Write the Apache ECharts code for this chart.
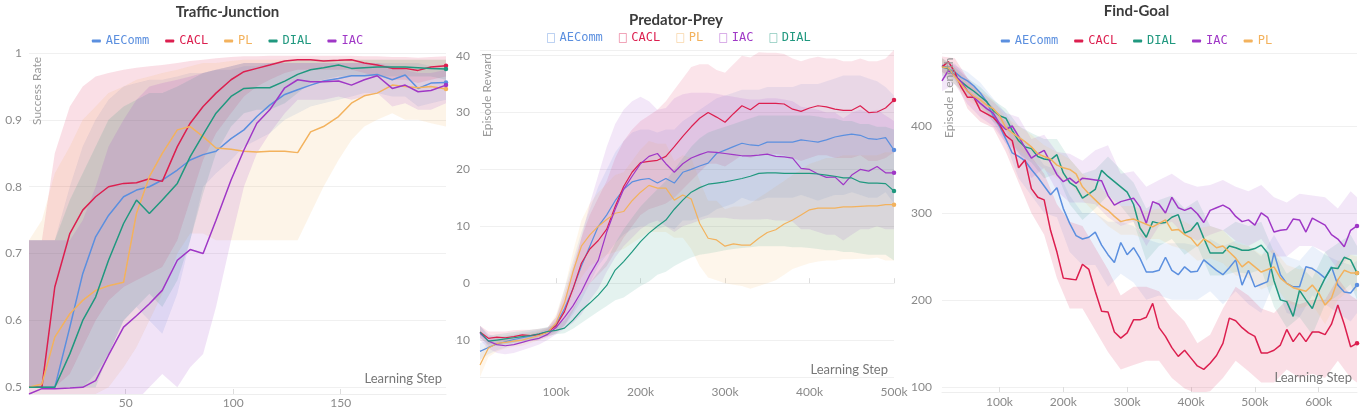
<!DOCTYPE html>
<html>
<head>
<meta charset="utf-8">
<title>Traffic-Junction / Predator-Prey / Find-Goal</title>
<script src="https://cdn.jsdelivr.net/npm/echarts@6/dist/echarts.min.js"></script>
<style>
  html, body { margin: 0; padding: 0; background: #fff; }
  .panel { position: absolute; top: 0; height: 411px; }
</style>
</head>
<body>
<div id="tj" class="panel" style="left:0;width:455px"></div>
<div id="pp" class="panel" style="left:455px;width:454px"></div>
<div id="fg" class="panel" style="left:909px;width:455px"></div>
<script>
// ---------- Traffic-Junction (success rate) ----------
const tjSteps = [5, 11, 17, 24, 30, 36, 42, 49, 55, 61, 67, 74, 80, 86, 92, 99, 105, 111, 117, 124, 130, 136, 142, 149, 155, 161, 167, 174, 180, 186, 192, 199];

const tjAEComm = [0.50, 0.50, 0.50, 0.59, 0.67, 0.725, 0.757, 0.785, 0.795, 0.80, 0.81, 0.825, 0.84, 0.848, 0.853, 0.872, 0.885, 0.905, 0.922, 0.938, 0.945, 0.952, 0.958, 0.962, 0.966, 0.966, 0.968, 0.96, 0.967, 0.947, 0.955, 0.956];
const tjCACL = [0.50, 0.50, 0.65, 0.73, 0.765, 0.785, 0.80, 0.805, 0.806, 0.812, 0.808, 0.86, 0.895, 0.92, 0.94, 0.96, 0.972, 0.977, 0.982, 0.988, 0.99, 0.99, 0.988, 0.989, 0.99, 0.985, 0.982, 0.977, 0.977, 0.974, 0.979, 0.981];
const tjPL = [0.50, 0.505, 0.575, 0.61, 0.63, 0.645, 0.652, 0.657, 0.76, 0.815, 0.85, 0.885, 0.89, 0.875, 0.858, 0.856, 0.853, 0.852, 0.853, 0.853, 0.851, 0.882, 0.89, 0.905, 0.925, 0.936, 0.94, 0.952, 0.95, 0.948, 0.95, 0.946];
const tjDIAL = [0.50, 0.50, 0.50, 0.55, 0.60, 0.635, 0.69, 0.745, 0.78, 0.76, 0.78, 0.805, 0.845, 0.878, 0.91, 0.935, 0.947, 0.948, 0.948, 0.958, 0.968, 0.975, 0.978, 0.982, 0.977, 0.978, 0.979, 0.979, 0.979, 0.978, 0.977, 0.976];
const tjIAC = [0.49, 0.498, 0.498, 0.499, 0.50, 0.51, 0.548, 0.59, 0.607, 0.625, 0.645, 0.69, 0.706, 0.70, 0.75, 0.81, 0.855, 0.895, 0.915, 0.948, 0.96, 0.957, 0.957, 0.958, 0.952, 0.96, 0.966, 0.947, 0.952, 0.942, 0.944, 0.952];

const tjAECommLo = [0.5, 0.5, 0.5, 0.5, 0.5, 0.52, 0.55, 0.6, 0.62, 0.6, 0.58, 0.64, 0.72, 0.8, 0.82, 0.84, 0.86, 0.87, 0.88, 0.9, 0.91, 0.92, 0.925, 0.93, 0.935, 0.94, 0.94, 0.935, 0.935, 0.92, 0.925, 0.93];
const tjAECommHi = [0.72, 0.72, 0.72, 0.8, 0.86, 0.9, 0.93, 0.95, 0.955, 0.96, 0.96, 0.965, 0.97, 0.97, 0.975, 0.975, 0.98, 0.98, 0.985, 0.985, 0.985, 0.985, 0.985, 0.985, 0.985, 0.985, 0.985, 0.985, 0.985, 0.985, 0.98, 0.98];
const tjCACLLo = [0.5, 0.5, 0.5, 0.52, 0.56, 0.6, 0.63, 0.65, 0.66, 0.67, 0.68, 0.72, 0.78, 0.84, 0.88, 0.91, 0.935, 0.95, 0.96, 0.97, 0.975, 0.975, 0.975, 0.975, 0.975, 0.97, 0.965, 0.96, 0.96, 0.955, 0.96, 0.965];
const tjCACLHi = [0.72, 0.72, 0.85, 0.92, 0.95, 0.965, 0.97, 0.975, 0.978, 0.98, 0.982, 0.985, 0.988, 0.99, 0.992, 0.994, 0.995, 0.995, 0.996, 0.996, 0.996, 0.996, 0.996, 0.996, 0.996, 0.995, 0.995, 0.994, 0.994, 0.993, 0.994, 0.995];
const tjPLLo = [0.49, 0.49, 0.49, 0.49, 0.49, 0.49, 0.5, 0.53, 0.56, 0.6, 0.64, 0.7, 0.73, 0.73, 0.72, 0.72, 0.72, 0.72, 0.72, 0.72, 0.72, 0.76, 0.8, 0.84, 0.87, 0.89, 0.9, 0.91, 0.9, 0.9, 0.895, 0.89];
const tjPLHi = [0.72, 0.75, 0.82, 0.86, 0.9, 0.92, 0.94, 0.95, 0.96, 0.965, 0.97, 0.975, 0.98, 0.985, 0.985, 0.988, 0.99, 0.99, 0.99, 0.99, 0.99, 0.99, 0.99, 0.99, 0.99, 0.99, 0.99, 0.99, 0.99, 0.99, 0.99, 0.99];
const tjDIALLo = [0.5, 0.5, 0.5, 0.5, 0.5, 0.5, 0.55, 0.6, 0.62, 0.64, 0.62, 0.66, 0.72, 0.79, 0.85, 0.89, 0.91, 0.915, 0.915, 0.925, 0.94, 0.955, 0.96, 0.965, 0.965, 0.965, 0.965, 0.965, 0.965, 0.965, 0.965, 0.96];
const tjDIALHi = [0.72, 0.72, 0.72, 0.78, 0.82, 0.86, 0.9, 0.92, 0.93, 0.94, 0.94, 0.95, 0.96, 0.97, 0.975, 0.98, 0.985, 0.985, 0.985, 0.988, 0.99, 0.99, 0.99, 0.99, 0.99, 0.99, 0.99, 0.99, 0.99, 0.99, 0.99, 0.99];
const tjIACLo = [0.48, 0.48, 0.48, 0.48, 0.48, 0.48, 0.48, 0.48, 0.48, 0.5, 0.52, 0.5, 0.53, 0.55, 0.62, 0.72, 0.8, 0.85, 0.88, 0.91, 0.93, 0.93, 0.93, 0.935, 0.93, 0.935, 0.94, 0.92, 0.925, 0.915, 0.915, 0.925];
const tjIACHi = [0.72, 0.72, 0.72, 0.72, 0.75, 0.8, 0.86, 0.9, 0.93, 0.95, 0.955, 0.96, 0.965, 0.97, 0.975, 0.98, 0.985, 0.985, 0.985, 0.985, 0.985, 0.985, 0.985, 0.985, 0.985, 0.985, 0.985, 0.98, 0.975, 0.97, 0.97, 0.975];

// ---------- Predator-Prey (episode reward), steps in thousands ----------
const ppSteps = [10, 20, 30, 40, 50, 60, 70, 80, 90, 100, 110, 120, 130, 140, 150, 160, 170, 180, 190, 200, 210, 220, 230, 240, 250, 260, 270, 280, 290, 300, 310, 320, 330, 340, 350, 360, 370, 380, 390, 400, 410, 420, 430, 440, 450, 460, 470, 480, 490, 500];

const ppAEComm = [-12.0, -11.3, -10.7, -10.3, -9.9, -9.6, -9.3, -9.0, -8.5, -7.3, -4.5, -1.0, 3.0, 6.5, 10.0, 12.0, 14.5, 16.5, 17.8, 18.2, 18.4, 17.6, 18.4, 17.6, 19.5, 20.0, 20.6, 21.1, 22.8, 23.4, 24.0, 24.6, 24.3, 24.2, 24.8, 24.8, 24.8, 24.8, 25.2, 25.0, 24.8, 25.2, 25.7, 26.0, 26.2, 26.0, 25.4, 25.3, 25.6, 23.4];
const ppCACL = [-8.6, -9.7, -9.5, -9.6, -9.4, -9.1, -9.2, -9.0, -8.6, -7.5, -5.0, -1.0, 3.5, 6.0, 7.5, 9.5, 13.5, 17.0, 19.5, 21.2, 21.4, 21.6, 22.3, 24.0, 25.8, 27.5, 29.0, 30.0, 29.2, 28.3, 29.8, 31.2, 30.5, 31.6, 31.6, 31.6, 31.5, 30.6, 30.2, 30.8, 31.2, 31.0, 30.6, 30.4, 30.4, 31.2, 30.0, 30.1, 30.8, 32.2];
const ppPL = [-14.4, -11.4, -10.6, -10.4, -10.2, -10.0, -9.6, -9.2, -8.6, -7.0, -3.5, 2.0, 6.5, 8.5, 10.0, 11.2, 12.3, 12.6, 14.5, 16.0, 17.2, 16.7, 16.7, 14.6, 15.5, 14.8, 10.5, 7.9, 7.6, 6.5, 6.9, 6.7, 6.7, 7.9, 8.9, 9.4, 10.4, 11.1, 12.0, 12.9, 13.2, 13.2, 13.2, 13.4, 13.4, 13.5, 13.6, 13.6, 13.8, 13.8];
const ppDIAL = [-8.6, -10.2, -10.0, -9.8, -9.6, -9.4, -9.2, -8.9, -8.5, -8.3, -7.9, -6.5, -4.8, -3.5, -2.1, -0.4, 2.3, 3.8, 5.5, 7.3, 8.8, 10.0, 11.1, 13.0, 14.6, 16.0, 16.8, 17.4, 17.6, 17.8, 18.1, 18.4, 18.8, 19.3, 19.4, 19.4, 19.3, 19.3, 19.3, 19.3, 19.2, 19.0, 18.8, 18.5, 18.5, 17.8, 17.6, 17.6, 17.5, 16.2];
const ppIAC = [-8.8, -10.2, -10.8, -11.0, -10.8, -10.4, -10.0, -9.7, -9.0, -7.8, -6.0, -4.0, -1.5, 1.5, 4.0, 9.0, 13.0, 16.5, 18.8, 21.0, 22.3, 22.8, 21.0, 19.5, 21.0, 22.0, 22.6, 23.1, 23.0, 22.8, 22.6, 22.4, 22.4, 22.5, 22.7, 22.3, 22.2, 22.0, 20.2, 20.0, 19.2, 18.6, 18.7, 17.3, 19.0, 20.0, 19.7, 20.5, 19.4, 19.4];

const ppAECommLo = [-13.5, -12.5, -11.8, -11.3, -10.8, -10.5, -10.2, -9.8, -9.2, -8.5, -7.5, -5.5, -3.0, 0.0, 3.0, 5.0, 7.0, 8.5, 9.5, 10.0, 10.0, 9.5, 10.0, 9.5, 11.0, 11.0, 11.5, 12.0, 13.0, 13.5, 14.0, 15.0, 14.5, 14.5, 15.0, 15.0, 15.0, 15.0, 15.5, 15.0, 14.5, 15.0, 15.5, 15.5, 16.0, 15.5, 15.0, 15.0, 16.0, 14.0];
const ppAECommHi = [-10.5, -10.0, -9.5, -9.2, -9.0, -8.7, -8.5, -8.2, -7.8, -6.0, -1.0, 4.0, 9.0, 13.0, 17.0, 20.0, 23.0, 25.0, 26.5, 27.0, 27.0, 26.5, 27.0, 27.0, 28.5, 29.5, 30.5, 31.5, 32.5, 33.0, 33.5, 34.0, 34.0, 34.0, 34.5, 34.5, 34.5, 34.5, 35.0, 35.0, 35.0, 35.5, 36.0, 36.5, 36.5, 36.5, 36.0, 35.5, 34.5, 33.0];
const ppCACLLo = [-9.7, -10.7, -10.5, -10.6, -10.4, -10.1, -10.2, -10.0, -9.5, -8.8, -7.5, -5.0, -2.0, 0.0, 1.5, 3.0, 5.5, 8.0, 10.0, 12.0, 13.0, 13.5, 14.0, 15.0, 16.5, 18.0, 19.5, 21.0, 21.0, 20.5, 21.5, 22.5, 22.0, 22.5, 22.7, 22.7, 22.5, 22.0, 21.5, 22.0, 22.5, 22.5, 22.0, 22.0, 22.0, 22.5, 21.5, 21.5, 22.0, 23.0];
const ppCACLHi = [-7.5, -8.5, -8.5, -8.5, -8.3, -8.2, -8.2, -8.0, -7.8, -6.0, -2.0, 3.0, 8.0, 12.0, 15.0, 18.0, 22.0, 25.0, 27.0, 28.5, 29.5, 30.5, 32.0, 34.0, 36.0, 38.0, 38.5, 38.5, 37.5, 37.0, 38.5, 40.0, 39.7, 40.6, 40.5, 40.5, 40.3, 39.5, 39.0, 39.5, 39.8, 39.5, 39.5, 39.0, 39.0, 39.5, 39.0, 39.0, 39.5, 41.0];
const ppPLLo = [-16.5, -13.0, -12.0, -11.5, -11.2, -11.0, -10.5, -10.0, -9.3, -8.3, -6.0, -2.0, 1.0, 3.0, 4.0, 5.0, 5.5, 6.0, 7.0, 8.0, 9.0, 9.0, 9.0, 8.0, 8.0, 6.0, 3.0, 1.0, 0.5, 0.0, -0.3, -0.5, -1.0, -0.5, 0.0, 0.5, 1.5, 2.5, 3.0, 3.5, 3.8, 4.0, 4.0, 4.2, 4.2, 4.3, 4.3, 4.5, 4.0, 4.0];
const ppPLHi = [-12.5, -10.0, -9.5, -9.3, -9.2, -9.0, -8.7, -8.4, -7.9, -5.5, -1.0, 5.5, 11.0, 14.0, 16.0, 17.5, 19.0, 19.5, 21.5, 23.5, 25.0, 24.5, 24.5, 21.5, 22.5, 22.0, 18.0, 14.5, 14.5, 13.0, 13.5, 13.5, 14.0, 15.0, 16.0, 17.0, 18.0, 19.0, 20.0, 21.0, 21.5, 22.0, 22.0, 22.5, 22.5, 22.5, 22.5, 22.5, 23.0, 23.0];
const ppDIALLo = [-9.5, -11.0, -11.0, -10.8, -10.5, -10.2, -10.0, -9.7, -9.3, -9.0, -8.8, -8.0, -7.0, -6.0, -5.0, -4.0, -3.0, -2.5, -1.5, -0.5, 0.3, 1.5, 2.0, 3.0, 3.8, 4.5, 5.0, 5.2, 5.5, 5.8, 6.0, 6.2, 6.3, 6.5, 6.5, 6.5, 6.5, 6.3, 6.3, 6.2, 6.0, 5.8, 5.8, 5.5, 5.5, 5.2, 5.0, 5.0, 5.0, 4.0];
const ppDIALHi = [-7.5, -9.3, -9.0, -8.8, -8.6, -8.4, -8.2, -8.0, -7.7, -7.3, -6.5, -4.5, -2.0, 0.0, 2.0, 4.0, 7.0, 9.5, 11.5, 13.5, 15.0, 16.5, 18.0, 20.0, 22.0, 24.0, 25.5, 26.5, 27.0, 27.5, 28.0, 28.5, 29.0, 29.5, 29.5, 29.5, 29.5, 29.5, 29.5, 29.5, 29.3, 29.0, 29.0, 28.5, 28.5, 28.0, 28.0, 27.5, 27.5, 27.0];
const ppIACLo = [-10.0, -11.5, -12.3, -12.5, -12.3, -11.8, -11.3, -10.8, -10.0, -9.0, -8.0, -7.0, -5.5, -3.0, -1.0, 2.0, 4.5, 6.5, 8.0, 9.5, 10.5, 11.0, 10.0, 9.0, 10.0, 10.5, 11.0, 11.5, 11.5, 11.5, 11.3, 11.2, 11.2, 11.2, 11.3, 11.0, 11.0, 10.8, 9.5, 9.5, 9.0, 8.5, 8.5, 7.5, 8.5, 9.5, 9.5, 10.0, 9.5, 9.5];
const ppIACHi = [-7.5, -9.0, -9.5, -9.5, -9.5, -9.2, -9.0, -8.6, -8.0, -6.5, -3.0, 2.0, 8.0, 14.0, 19.0, 24.0, 28.0, 30.5, 32.0, 32.8, 32.0, 30.5, 30.8, 32.5, 33.2, 33.5, 33.5, 33.5, 33.3, 33.0, 32.8, 32.5, 32.3, 32.3, 32.5, 32.5, 32.3, 32.0, 31.0, 30.8, 30.5, 30.0, 30.0, 29.0, 30.0, 30.5, 30.0, 30.5, 29.5, 28.5];

// ---------- Find-Goal (episode length), steps in thousands ----------
const fgSteps = [10, 20, 30, 40, 50, 60, 70, 80, 90, 100, 110, 120, 130, 140, 150, 160, 170, 180, 190, 200, 210, 220, 230, 240, 250, 260, 270, 280, 290, 300, 310, 320, 330, 340, 350, 360, 370, 380, 390, 400, 410, 420, 430, 440, 450, 460, 470, 480, 490, 500, 510, 520, 530, 540, 550, 560, 570, 580, 590, 600, 610, 620, 630, 640, 650, 660];

const fgAEComm = [470, 466, 462, 456, 452, 446, 438, 428, 412, 400, 385, 369, 365, 360, 350, 341, 331, 321, 329, 305, 288, 274, 270, 272, 278, 263, 252, 243, 266, 252, 260, 248, 232, 232, 234, 249, 234, 229, 238, 232, 233, 246, 240, 234, 229, 237, 246, 217, 234, 215, 218, 221, 254, 229, 219, 215, 215, 238, 236, 231, 225, 238, 217, 209, 208, 217];
const fgCACL = [468, 474, 462, 445, 433, 433, 418, 414, 410, 402, 389, 383, 352, 361, 328, 318, 315, 280, 255, 225, 224, 223, 241, 235, 210, 187, 186, 163, 156, 162, 177, 177, 180, 196, 168, 158, 145, 135, 142, 133, 124, 120, 127, 136, 150, 179, 176, 168, 162, 158, 139, 139, 142, 148, 166, 152, 162, 152, 163, 163, 160, 172, 194, 172, 146, 150];
const fgDIAL = [468, 466, 458, 451, 445, 440, 434, 428, 418, 412, 409, 395, 383, 376, 374, 365, 362, 361, 367, 346, 335, 330, 317, 322, 327, 349, 342, 336, 330, 324, 310, 283, 272, 290, 288, 289, 295, 298, 277, 280, 289, 271, 254, 254, 254, 262, 260, 257, 257, 259, 263, 254, 222, 200, 198, 181, 211, 200, 190, 210, 225, 237, 236, 249, 246, 231];
const fgIAC = [452, 464, 458, 451, 440, 433, 426, 420, 415, 403, 396, 400, 388, 375, 363, 368, 372, 358, 344, 336, 340, 334, 340, 339, 338, 337, 320, 309, 313, 315, 317, 307, 288, 313, 310, 300, 318, 306, 303, 306, 299, 289, 303, 306, 309, 305, 296, 290, 292, 286, 300, 295, 278, 280, 281, 293, 292, 278, 294, 290, 286, 275, 270, 261, 280, 285];
const fgPL = [468, 467, 457, 448, 440, 434, 430, 424, 420, 412, 398, 392, 387, 382, 376, 368, 365, 362, 355, 352, 350, 345, 330, 322, 315, 308, 303, 296, 290, 292, 293, 290, 287, 284, 288, 292, 280, 281, 275, 271, 262, 270, 266, 260, 262, 255, 248, 238, 244, 238, 232, 235, 238, 225, 219, 214, 212, 210, 217, 208, 194, 202, 223, 234, 231, 231];

const fgBandSteps = [10, 30, 50, 70, 90, 110, 130, 150, 170, 190, 210, 230, 250, 270, 290, 310, 330, 350, 370, 390, 410, 430, 450, 470, 490, 510, 530, 550, 570, 590, 610, 630, 650, 660];
const fgAECommLo = [462, 452, 440, 428, 405, 380, 340, 320, 300, 295, 255, 240, 240, 215, 230, 220, 200, 205, 200, 200, 200, 210, 195, 210, 195, 185, 220, 185, 180, 205, 195, 185, 175, 185];
const fgAECommHi = [478, 470, 462, 450, 432, 415, 390, 375, 355, 350, 320, 300, 300, 290, 290, 285, 270, 265, 265, 265, 262, 270, 262, 268, 262, 250, 275, 250, 245, 262, 252, 245, 240, 245];
const fgCACLLo = [462, 455, 420, 405, 398, 370, 335, 300, 275, 225, 190, 190, 165, 140, 120, 125, 130, 130, 110, 98, 92, 95, 110, 130, 118, 105, 105, 120, 110, 115, 110, 130, 110, 105];
const fgCACLHi = [480, 478, 455, 435, 422, 405, 385, 365, 345, 310, 290, 285, 260, 235, 205, 215, 215, 210, 190, 175, 150, 160, 190, 215, 205, 190, 185, 200, 195, 200, 200, 225, 205, 200];
const fgDIALLo = [458, 448, 435, 422, 405, 395, 368, 358, 340, 345, 310, 292, 305, 320, 308, 290, 245, 262, 270, 252, 262, 228, 228, 232, 230, 235, 192, 168, 180, 160, 195, 205, 218, 200];
const fgDIALHi = [478, 468, 455, 445, 430, 420, 400, 392, 385, 385, 362, 345, 350, 365, 350, 335, 305, 315, 320, 305, 315, 285, 280, 290, 285, 290, 255, 230, 240, 225, 255, 265, 275, 262];
const fgIACLo = [440, 448, 425, 410, 400, 380, 370, 340, 352, 325, 312, 312, 310, 295, 285, 290, 262, 285, 290, 275, 268, 275, 280, 268, 262, 270, 250, 250, 262, 262, 255, 235, 252, 252];
const fgIACHi = [470, 472, 455, 440, 428, 415, 410, 385, 390, 370, 368, 360, 372, 378, 345, 348, 330, 338, 345, 335, 330, 332, 338, 330, 325, 332, 318, 312, 322, 320, 318, 305, 325, 318];
const fgPLLo = [460, 448, 430, 420, 408, 385, 372, 362, 350, 340, 335, 315, 300, 285, 275, 275, 270, 270, 262, 258, 245, 248, 242, 228, 225, 212, 218, 198, 190, 195, 172, 200, 212, 210];
const fgPLHi = [478, 468, 450, 440, 430, 410, 400, 390, 378, 370, 362, 345, 335, 320, 308, 308, 302, 305, 298, 290, 282, 285, 280, 265, 262, 252, 258, 240, 235, 238, 218, 245, 252, 250];

// ---------- styling ----------
const COLORS = { AEComm: '#5B8FDF', CACL: '#DC1F4F', PL: '#F3B25D', DIAL: '#20987F', IAC: '#9F37C6' };
const LABEL_FONT = 'Lato';
const LEGEND_FONT = 'DejaVu Sans Mono';

function withAlpha(hex, a) {
  const n = parseInt(hex.slice(1), 16);
  return 'rgba(' + (n >> 16) + ',' + ((n >> 8) & 255) + ',' + (n & 255) + ',' + a + ')';
}

function meanSeries(name, xs, ys, width) {
  const c = COLORS[name];
  const last = xs.length - 1;
  return {
    name, type: 'line', z: 3, silent: true,
    data: xs.map((x, i) => [x, ys[i]]),
    symbol: 'circle', showSymbol: true,
    symbolSize: (v, p) => (p.dataIndex === last ? 4.5 : 0),
    itemStyle: { color: c },
    lineStyle: { color: c, width }
  };
}

// min/max band as one polygon: upper edge left->right, lower edge right->left
function bandSeries(name, xs, lo, hi, alpha) {
  const fill = withAlpha(COLORS[name], alpha);
  return {
    name, type: 'custom', z: 1, silent: true,
    data: xs.map((x, i) => [x, lo[i], hi[i]]),
    encode: { x: 0, y: [1, 2] },
    renderItem(params, api) {
      if (params.dataIndex !== 0) return null;
      const top = xs.map((x, i) => api.coord([x, hi[i]]));
      const bottom = xs.map((x, i) => api.coord([x, lo[i]])).reverse();
      const cs = params.coordSys;
      return {
        type: 'polygon',
        shape: { points: top.concat(bottom) },
        style: { fill },
        clipPath: { type: 'rect', shape: { x: cs.x, y: cs.y, width: cs.width, height: cs.height } }
      };
    }
  };
}

function legendFor(order, hollow, top, left) {
  return {
    top, left, padding: 0, selectedMode: false,
    itemGap: hollow ? 16 : 16,
    itemWidth: hollow ? 7 : 9,
    itemHeight: hollow ? 9 : 3,
    textStyle: { fontFamily: LEGEND_FONT, fontSize: 12 },
    data: order.map(n => ({
      name: n,
      icon: hollow ? 'rect' : 'roundRect',
      itemStyle: hollow
        ? { color: 'rgba(255,255,255,0)', borderColor: withAlpha(COLORS[n], 0.4), borderWidth: 1 }
        : { color: COLORS[n], borderWidth: 0 },
      textStyle: { color: COLORS[n] }
    }))
  };
}

function axisNames(yName, yx, yy, xRight, xy) {
  return [
    { type: 'text', x: yx, y: yy, rotation: Math.PI / 2, silent: true, z: 10,
      style: { text: yName, fill: '#9a9a9a', font: '12px ' + LABEL_FONT, align: 'left', verticalAlign: 'middle' } },
    { type: 'text', x: xRight, y: xy, silent: true, z: 10,
      style: { text: 'Learning Step', fill: '#777', font: '13px ' + LABEL_FONT, align: 'right', verticalAlign: 'middle' } }
  ];
}

function panel(cfg) {
  return {
    animation: false,
    title: {
      text: cfg.title, left: cfg.titleLeft, top: cfg.titleTop, padding: 0,
      textStyle: { fontFamily: LABEL_FONT, fontSize: 15, fontWeight: 'bold', color: '#3c3c3c' }
    },
    legend: cfg.legend,
    grid: Object.assign({ outerBoundsMode: 'none', containLabel: false }, cfg.grid),
    xAxis: {
      type: 'value', min: cfg.xMin, max: cfg.xMax, splitNumber: cfg.xSplit,
      splitLine: { show: false },
      axisLine: { show: true, lineStyle: { color: '#eeeeee' } },
      axisTick: { show: true, inside: true, length: 5, lineStyle: { color: '#dddddd' } },
      axisLabel: {
        color: '#8a8a8a', fontFamily: LABEL_FONT, fontSize: 12, margin: cfg.xMargin,
        showMinLabel: false, showMaxLabel: cfg.xShowMax, formatter: cfg.xFormat
      }
    },
    yAxis: {
      type: 'value', min: cfg.yMin, max: cfg.yMax,
      splitLine: { lineStyle: { color: '#f0f0f0' } },
      axisLine: { show: false }, axisTick: { show: false },
      axisLabel: {
        color: '#8a8a8a', fontFamily: LABEL_FONT, fontSize: 12, margin: cfg.yMargin,
        showMinLabel: false, showMaxLabel: cfg.yShowMax
      }
    },
    graphic: cfg.graphic,
    series: cfg.series
  };
}

const kFormat = v => (v % 100 === 0 ? v + 'k' : '');

// Traffic-Junction
const tjSeries = [
  bandSeries('AEComm', tjSteps, tjAECommLo, tjAECommHi, 0.14),
  bandSeries('CACL', tjSteps, tjCACLLo, tjCACLHi, 0.14),
  bandSeries('PL', tjSteps, tjPLLo, tjPLHi, 0.14),
  bandSeries('DIAL', tjSteps, tjDIALLo, tjDIALHi, 0.14),
  bandSeries('IAC', tjSteps, tjIACLo, tjIACHi, 0.14),
  meanSeries('AEComm', tjSteps, tjAEComm, 1.5),
  meanSeries('CACL', tjSteps, tjCACL, 1.5),
  meanSeries('PL', tjSteps, tjPL, 1.5),
  meanSeries('DIAL', tjSteps, tjDIAL, 1.5),
  meanSeries('IAC', tjSteps, tjIAC, 1.5)
];
echarts.init(document.getElementById('tj')).setOption(panel({
  title: 'Traffic-Junction', titleLeft: 'center', titleTop: 5,
  legend: legendFor(['AEComm', 'CACL', 'PL', 'DIAL', 'IAC'], false, 35, 'center'),
  grid: { left: 29, right: 9, top: 53, bottom: 17 },
  xMin: 5, xMax: 199, xSplit: 4, xMargin: 3, xShowMax: false, xFormat: v => (v % 50 === 0 ? String(v) : ''),
  yMin: 0.49, yMax: 1, yMargin: 7, yShowMax: true,
  graphic: axisNames('Success Rate', 37, 125, 442, 379),
  series: tjSeries
}));

// Predator-Prey
const ppSeries = [
  bandSeries('AEComm', ppSteps, ppAECommLo, ppAECommHi, 0.12),
  bandSeries('CACL', ppSteps, ppCACLLo, ppCACLHi, 0.12),
  bandSeries('PL', ppSteps, ppPLLo, ppPLHi, 0.12),
  bandSeries('IAC', ppSteps, ppIACLo, ppIACHi, 0.12),
  bandSeries('DIAL', ppSteps, ppDIALLo, ppDIALHi, 0.12),
  meanSeries('AEComm', ppSteps, ppAEComm, 1.2),
  meanSeries('CACL', ppSteps, ppCACL, 1.2),
  meanSeries('PL', ppSteps, ppPL, 1.2),
  meanSeries('IAC', ppSteps, ppIAC, 1.2),
  meanSeries('DIAL', ppSteps, ppDIAL, 1.2)
];
echarts.init(document.getElementById('pp')).setOption(panel({
  title: 'Predator-Prey', titleLeft: 174, titleTop: 13,
  legend: legendFor(['AEComm', 'CACL', 'PL', 'IAC', 'DIAL'], true, 32, 92),
  grid: { left: 25, right: 15, top: 50, bottom: 34 },
  xMin: 10, xMax: 500, xSplit: 5, xMargin: 9, xShowMax: true, xFormat: kFormat,
  yMin: -16.5, yMax: 41, yMargin: 10, yShowMax: false,
  graphic: axisNames('Episode Reward', 32, 137, 433, 370),
  series: ppSeries
}));

// Find-Goal
const fgSeries = [
  bandSeries('AEComm', fgBandSteps, fgAECommLo, fgAECommHi, 0.12),
  bandSeries('CACL', fgBandSteps, fgCACLLo, fgCACLHi, 0.14),
  bandSeries('DIAL', fgBandSteps, fgDIALLo, fgDIALHi, 0.12),
  bandSeries('IAC', fgBandSteps, fgIACLo, fgIACHi, 0.12),
  bandSeries('PL', fgBandSteps, fgPLLo, fgPLHi, 0.12),
  meanSeries('AEComm', fgSteps, fgAEComm, 1.5),
  meanSeries('CACL', fgSteps, fgCACL, 1.5),
  meanSeries('DIAL', fgSteps, fgDIAL, 1.5),
  meanSeries('IAC', fgSteps, fgIAC, 1.5),
  meanSeries('PL', fgSteps, fgPL, 1.5)
];
echarts.init(document.getElementById('fg')).setOption(panel({
  title: 'Find-Goal', titleLeft: 'center', titleTop: 4,
  legend: legendFor(['AEComm', 'CACL', 'DIAL', 'IAC', 'PL'], false, 35, 'center'),
  grid: { left: 33, right: 7, top: 53, bottom: 19 },
  xMin: 10, xMax: 660, xSplit: 5, xMargin: 4, xShowMax: false, xFormat: kFormat,
  yMin: 94, yMax: 484, yMargin: 10, yShowMax: false,
  graphic: axisNames('Episode Length', 40, 138, 443, 378),
  series: fgSeries
}));
</script>
</body>
</html>
